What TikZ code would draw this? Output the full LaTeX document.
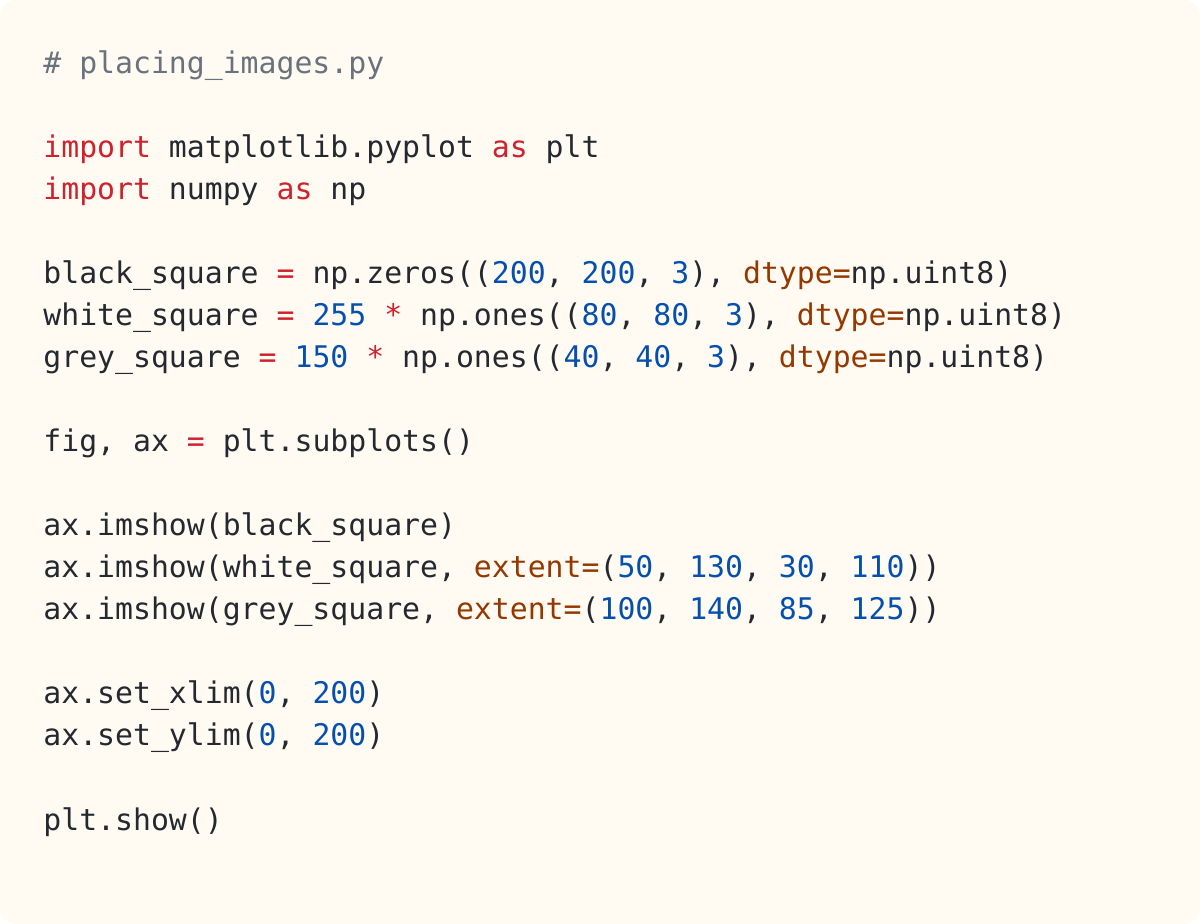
\documentclass[tikz,border=0pt]{standalone}
\usepackage{fontspec}
\setmonofont{DejaVu Sans Mono}
\definecolor{bg}{HTML}{FFFBF3}
\definecolor{cm}{HTML}{6A737D}
\definecolor{kw}{HTML}{CF222E}
\definecolor{nm}{HTML}{0550AE}
\definecolor{kg}{HTML}{953800}
\definecolor{tx}{HTML}{24292F}
\newcommand{\K}[1]{\textcolor{kw}{#1}}
\newcommand{\N}[1]{\textcolor{nm}{#1}}
\newcommand{\A}[1]{\textcolor{kg}{#1}}
\begin{document}
\begin{tikzpicture}[x=0.5pt,y=-0.5pt,
  code/.style={anchor=base west,inner sep=0,text=tx,font=\ttfamily\fontsize{14.9}{21}\selectfont}]
\fill[bg,rounded corners=8pt] (0,0) rectangle (1200,924);
\useasboundingbox (0,0) rectangle (1200,924);
\node[code] (l1) at (43,74) {\textcolor{cm}{\# placing\_images.py}};
\node[code] (l2) at (43,158) {\K{import} matplotlib.pyplot \K{as} plt};
\node[code] (l3) at (43,200) {\K{import} numpy \K{as} np};
\node[code] (l4) at (43,284) {black\_square \K{=} np.zeros((\N{200}, \N{200}, \N{3}), \A{dtype=}np.uint8)};
\node[code] (l5) at (43,326) {white\_square \K{=} \N{255} \K{*} np.ones((\N{80}, \N{80}, \N{3}), \A{dtype=}np.uint8)};
\node[code] (l6) at (43,368) {grey\_square \K{=} \N{150} \K{*} np.ones((\N{40}, \N{40}, \N{3}), \A{dtype=}np.uint8)};
\node[code] (l7) at (43,452) {fig, ax \K{=} plt.subplots()};
\node[code] (l8) at (43,536) {ax.imshow(black\_square)};
\node[code] (l9) at (43,578) {ax.imshow(white\_square, \A{extent=}(\N{50}, \N{130}, \N{30}, \N{110}))};
\node[code] (l10) at (43,620) {ax.imshow(grey\_square, \A{extent=}(\N{100}, \N{140}, \N{85}, \N{125}))};
\node[code] (l11) at (43,704) {ax.set\_xlim(\N{0}, \N{200})};
\node[code] (l12) at (43,746) {ax.set\_ylim(\N{0}, \N{200})};
\node[code] (l13) at (43,830) {plt.show()};
\end{tikzpicture}
\end{document}
